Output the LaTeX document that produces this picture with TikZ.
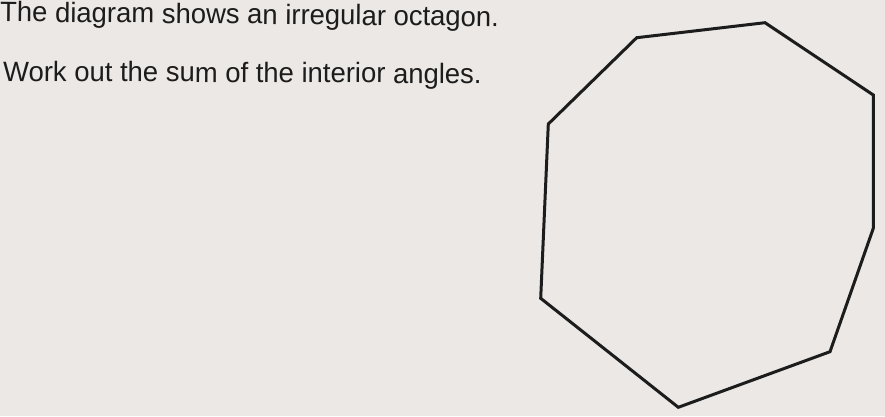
\documentclass[tikz,border=0pt]{standalone}
\usepackage{fontspec}
\setmainfont{Liberation Sans}
\usepackage{tikz}
\definecolor{screenbg}{RGB}{236,232,229}
\definecolor{inkgray}{RGB}{28,28,28}

\begin{document}
\begin{tikzpicture}[x=1pt,y=-1pt]
    % Hintergrund
    \fill[screenbg] (0,0) rectangle (885,416);
    \useasboundingbox (0,0) rectangle (885,416);

    % Aufgabentext
    \node[anchor=base west, inner sep=0pt, text=inkgray, xscale=0.98, rotate=-0.55, font=\fontsize{28}{34}\selectfont] (line1) at (0,21.5) {The diagram shows an irregular octagon.};
    \node[anchor=base west, inner sep=0pt, text=inkgray, xscale=0.98, rotate=-0.3, font=\fontsize{28}{34}\selectfont] (line2) at (3,81) {Work out the sum of the interior angles.};

    % Ecken des Achtecks
    \coordinate (p1) at (636.7,37.7);
    \coordinate (p2) at (765,22.7);
    \coordinate (p3) at (873.3,95);
    \coordinate (p4) at (873.3,228.3);
    \coordinate (p5) at (830,351.7);
    \coordinate (p6) at (678.3,407.3);
    \coordinate (p7) at (540.7,298.3);
    \coordinate (p8) at (548.3,124);

    % Achteck
    \draw[inkgray, line width=3pt, line join=miter] (p1) -- (p2) -- (p3) -- (p4) -- (p5) -- (p6) -- (p7) -- (p8) -- cycle;
\end{tikzpicture}
\end{document}
